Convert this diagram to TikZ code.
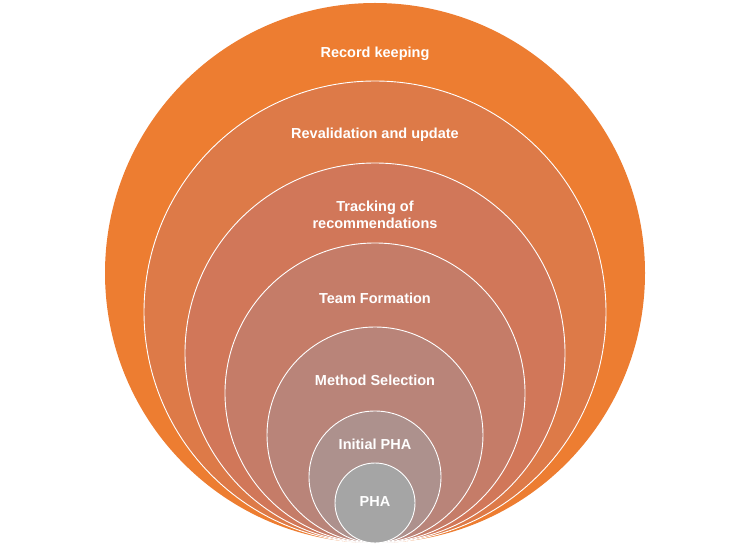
\documentclass[tikz,border=0pt]{standalone}
\usepackage{fontspec}
\setmainfont{Liberation Sans}
\usepackage{tikz}
\definecolor{ringa}{HTML}{ED7D31}
\definecolor{ringb}{HTML}{DD7A48}
\definecolor{ringc}{HTML}{D17759}
\definecolor{ringd}{HTML}{C57C68}
\definecolor{ringe}{HTML}{B98479}
\definecolor{ringf}{HTML}{AD918D}
\definecolor{ringg}{HTML}{A5A5A5}
\tikzset{
	ringlabel/.style={text=white,font=\fontsize{14.5}{17}\selectfont\bfseries,align=center,inner sep=0pt},
	ringline/.style={draw=white,line width=0.9pt}
}
\begin{document}
\begin{tikzpicture}[x=1pt,y=1pt]
	\useasboundingbox (0,0) rectangle (750,544);
	
	%the nested circles, all touching at the bottom
	\fill[color=ringa] (375,271) circle (270);
	\foreach \r/\c in {231/ringb,190/ringc,150/ringd,108/ringe,66/ringf,40/ringg}
		{
		\filldraw[fill=\c,ringline] (375,1+\r) circle (\r);
		}
	
	%labels
	\node[ringlabel] (keep) at (375,490) {Record keeping};
	\node[ringlabel] (reval) at (375,409) {Revalidation and update};
	\node[ringlabel] (track) at (375,329) {Tracking of\\recommendations};
	\node[ringlabel] (team) at (375,246) {Team Formation};
	\node[ringlabel] (method) at (375,164) {Method Selection};
	\node[ringlabel] (initial) at (375,100) {Initial PHA};
	\node[ringlabel] (pha) at (375,42) {PHA};
\end{tikzpicture}
\end{document}
